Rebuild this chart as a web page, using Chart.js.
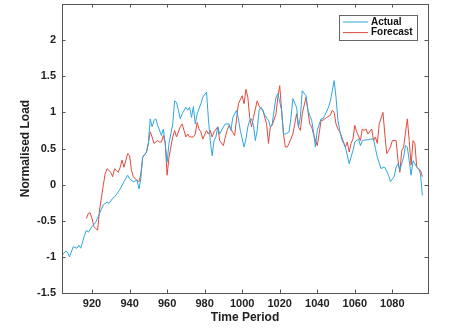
<!DOCTYPE html>
<html>
<head>
<meta charset="utf-8">
<script src="https://cdn.jsdelivr.net/npm/chart.js@4/dist/chart.umd.min.js"></script>
<style>
  html, body { margin: 0; padding: 0; background: #fff; }
  #wrap { width: 474px; height: 333px; position: relative; }
</style>
</head>
<body>
<div id="wrap"><canvas id="c" width="474" height="333"></canvas></div>
<script>
// Time periods and normalised load, actual series
const actualT = [904,906,907,908,910,912,913,914,916,917,918,920,922,924,926,928,929,931,932,934,935,937,939,940,942,944,945,946,947,949,950,951,952,953,954,955,957,958,959,960,961,963,964,965,966,967,968,970,971,972,973,974,975,976,978,979,981,982,983,984,985,986,987,988,990,991,993,994,995,997,998,999,1001,1002,1003,1004,1005,1006,1007,1008,1009,1010,1011,1012,1014,1015,1016,1017,1018,1019,1021,1022,1023,1025,1026,1027,1029,1030,1031,1032,1034,1035,1036,1037,1038,1039,1040,1042,1043,1044,1046,1047,1048,1049,1050,1051,1052,1053,1054,1055,1057,1058,1059,1060,1062,1063,1064,1066,1067,1068,1070,1071,1072,1074,1075,1076,1078,1079,1080,1081,1082,1083,1084,1086,1087,1088,1089,1090,1091,1092,1093,1094,1095,1096];
const actualV = [-0.98,-0.92,-0.94,-1.0,-0.86,-0.88,-0.84,-0.88,-0.70,-0.63,-0.66,-0.58,-0.52,-0.40,-0.28,-0.24,-0.26,-0.19,-0.17,-0.10,-0.06,0.04,0.13,0.08,0.04,0.06,-0.06,0.08,0.38,0.45,0.57,0.91,0.80,0.89,0.91,0.82,0.68,0.77,0.57,0.31,0.57,0.84,1.16,1.14,1.03,0.91,0.98,1.07,1.03,1.07,0.93,1.08,0.84,0.98,1.12,1.21,1.28,0.91,0.61,0.40,0.61,0.66,0.80,0.70,0.80,0.84,0.84,0.75,0.93,1.03,0.91,0.75,0.52,0.63,0.80,0.89,0.91,0.82,0.61,0.75,1.03,1.07,1.03,0.96,0.89,0.80,0.84,1.03,1.21,1.26,1.03,0.70,0.70,0.73,0.93,1.19,1.07,0.80,0.93,1.30,1.23,1.03,0.96,0.89,0.73,0.52,0.75,0.91,0.91,0.96,1.07,1.16,1.30,1.44,1.21,0.89,0.75,0.63,0.57,0.52,0.29,0.38,0.47,0.59,0.63,0.54,0.61,0.62,0.62,0.63,0.63,0.50,0.38,0.22,0.24,0.24,0.13,0.04,0.08,0.11,0.24,0.29,0.20,0.38,0.54,0.52,0.33,0.13,0.33,0.29,0.24,0.22,0.15,-0.15];

// Forecast series
const forecastT = [917,918,919,920,921,922,923,924,926,927,928,930,931,932,934,935,936,937,939,940,941,942,943,945,946,947,949,950,951,952,953,955,956,957,958,959,960,961,963,964,965,967,968,969,970,971,972,974,975,976,977,978,979,981,982,983,984,985,987,988,990,991,992,993,995,996,997,998,1000,1001,1002,1003,1004,1005,1006,1008,1009,1010,1011,1013,1014,1015,1016,1018,1019,1020,1021,1022,1023,1024,1025,1027,1028,1029,1030,1031,1032,1034,1035,1036,1037,1038,1040,1041,1042,1043,1044,1045,1047,1048,1049,1050,1051,1052,1053,1055,1056,1057,1058,1059,1060,1061,1063,1064,1065,1066,1067,1069,1070,1071,1072,1073,1075,1076,1077,1078,1079,1080,1082,1083,1084,1085,1086,1088,1089,1090,1091,1092,1093,1094,1095,1096];
const forecastV = [-0.47,-0.40,-0.39,-0.47,-0.58,-0.61,-0.63,-0.35,-0.01,0.15,0.22,0.17,0.11,0.22,0.17,0.24,0.34,0.24,0.43,0.40,0.20,0.11,0.08,0.04,0.15,0.38,0.45,0.57,0.73,0.66,0.57,0.61,0.59,0.59,0.68,0.57,0.13,0.38,0.66,0.75,0.66,0.80,0.84,0.75,0.66,0.70,0.66,0.66,0.70,0.86,0.77,0.73,0.63,0.75,0.70,0.75,0.66,0.73,0.80,0.61,0.54,0.66,0.75,0.82,0.72,0.68,0.91,1.12,1.23,1.12,1.32,1.21,0.93,0.80,0.93,1.16,1.09,1.05,1.03,0.84,0.57,0.80,0.82,0.98,1.21,1.37,1.03,0.70,0.52,0.52,0.57,0.70,0.84,0.98,0.80,0.75,0.98,1.21,1.03,0.84,0.80,0.70,0.54,0.70,0.89,0.89,0.91,0.93,0.96,1.03,1.00,0.84,0.77,0.73,0.66,0.52,0.59,0.45,0.57,0.63,0.82,0.73,0.61,0.77,0.75,0.77,0.70,0.77,0.61,0.66,0.57,0.84,1.00,0.70,0.43,0.47,0.52,0.61,0.61,0.34,0.17,0.47,0.52,0.91,0.61,0.27,0.61,0.57,0.24,0.22,0.20,0.11];

const xTicks = [920, 940, 960, 980, 1000, 1020, 1040, 1060, 1080];
const yTicks = [-1.5, -1, -0.5, 0, 0.5, 1, 1.5, 2, 2.5];

const FONT = "'Liberation Sans', Arial, sans-serif";
const AXIS_COLOR = '#555';

// Box around the plot with inward tick marks on every side
const framePlugin = {
  id: 'frame',
  afterDatasetsDraw(chart) {
    const { ctx, chartArea: a, scales } = chart;
    const len = 3.5;
    ctx.save();
    ctx.strokeStyle = AXIS_COLOR;
    ctx.lineWidth = 1;
    ctx.strokeRect(Math.round(a.left) + 0.5, Math.round(a.top) + 0.5,
                   Math.round(a.right - a.left), Math.round(a.bottom - a.top));
    ctx.beginPath();
    scales.x.ticks.forEach(t => {
      const px = Math.round(scales.x.getPixelForValue(t.value)) + 0.5;
      ctx.moveTo(px, a.bottom); ctx.lineTo(px, a.bottom - len);
      ctx.moveTo(px, a.top); ctx.lineTo(px, a.top + len);
    });
    scales.y.ticks.forEach(t => {
      const py = Math.round(scales.y.getPixelForValue(t.value)) + 0.5;
      ctx.moveTo(a.left, py); ctx.lineTo(a.left + len, py);
      ctx.moveTo(a.right, py); ctx.lineTo(a.right - len, py);
    });
    ctx.stroke();
    ctx.restore();
  }
};

// Boxed legend in the upper right of the plot
const boxLegend = {
  id: 'boxLegend',
  afterDraw(chart) {
    const { ctx } = chart;
    const x0 = 339.5, y0 = 15.5, w = 78, h = 25;
    ctx.save();
    ctx.fillStyle = '#fff';
    ctx.fillRect(x0, y0, w, h);
    ctx.strokeStyle = '#666';
    ctx.lineWidth = 1;
    ctx.strokeRect(x0, y0, w, h);
    ctx.font = 'bold 10px ' + FONT;
    ctx.textBaseline = 'middle';
    chart.data.datasets.forEach((ds, i) => {
      const y = 22 + i * 10.6;
      ctx.strokeStyle = ds.borderColor;
      ctx.beginPath();
      ctx.moveTo(343, y); ctx.lineTo(368, y);
      ctx.stroke();
      ctx.fillStyle = '#111';
      ctx.fillText(ds.label, 371, y);
    });
    ctx.restore();
  }
};

new Chart(document.getElementById('c'), {
  type: 'line',
  data: {
    datasets: [
      {
        label: 'Actual',
        data: actualT.map((t, i) => ({ x: t, y: actualV[i] })),
        borderColor: '#2ea6de',
        borderWidth: 1,
        pointRadius: 0,
        tension: 0,
        fill: false
      },
      {
        label: 'Forecast',
        data: forecastT.map((t, i) => ({ x: t, y: forecastV[i] })),
        borderColor: '#e2493c',
        borderWidth: 1,
        pointRadius: 0,
        tension: 0,
        fill: false
      }
    ]
  },
  options: {
    responsive: false,
    animation: false,
    devicePixelRatio: 1,
    layout: { padding: { left: 0, right: 46, top: 4, bottom: 0 } },
    plugins: {
      legend: { display: false },
      tooltip: { enabled: false }
    },
    scales: {
      x: {
        type: 'linear',
        min: 904,
        max: 1099,
        afterBuildTicks: axis => { axis.ticks = xTicks.map(v => ({ value: v })); },
        afterFit: axis => { axis.height = 40; axis.paddingLeft = 0; axis.paddingRight = 0; },
        grid: { display: false, drawTicks: false },
        border: { display: false },
        ticks: {
          padding: 4,
          color: '#222',
          font: { family: FONT, size: 11, weight: 'bold' },
          maxRotation: 0,
          callback: v => String(v)
        },
        title: {
          display: true,
          text: 'Time Period',
          color: '#222',
          font: { family: FONT, size: 12, weight: 'bold' },
          padding: { top: 0, bottom: 8 }
        }
      },
      y: {
        min: -1.5,
        max: 2.5,
        afterBuildTicks: axis => { axis.ticks = yTicks.map(v => ({ value: v })); },
        afterFit: axis => { axis.width = 62; axis.paddingTop = 0; axis.paddingBottom = 0; },
        grid: { display: false, drawTicks: false },
        border: { display: false },
        ticks: {
          padding: 6,
          color: '#222',
          font: { family: FONT, size: 11, weight: 'bold' },
          callback: v => (v === 2.5 ? '' : String(v))
        },
        title: {
          display: true,
          text: 'Normalised Load',
          color: '#222',
          font: { family: FONT, size: 12, weight: 'bold' },
          padding: { top: 18, bottom: 0 }
        }
      }
    }
  },
  plugins: [framePlugin, boxLegend]
});
</script>
</body>
</html>
